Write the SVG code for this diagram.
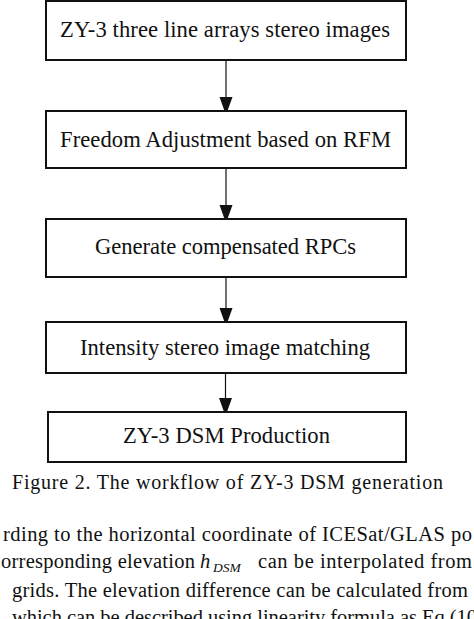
<svg xmlns="http://www.w3.org/2000/svg" width="474" height="619" viewBox="0 0 474 619">
<style>
.box{fill:#fff;stroke:#111;stroke-width:2}
.lbl{font-size:22.6px;fill:#111;text-anchor:middle}
.edge{stroke:#111;stroke-width:1.2;fill:none}
.txt{font-size:20.5px;fill:#111}
.sub{font-size:13.5px;fill:#111;font-style:italic}
.cap{font-size:20px;fill:#111}
</style>
<defs>
<marker id="ah" viewBox="0 0 13 18" refX="13" refY="6.5" markerWidth="13" markerHeight="18" markerUnits="userSpaceOnUse" orient="auto">
<path d="M0,0 L18,6.5 L0,13 Z" fill="#111"/>
</marker>
</defs>
<rect width="474" height="619" fill="#fff"/>
<g id="connectors">
<line class="edge" x1="226" y1="60" x2="226" y2="110" marker-end="url(#ah)"/>
<line class="edge" x1="226" y1="168" x2="226" y2="218" marker-end="url(#ah)"/>
<line class="edge" x1="226" y1="277" x2="226" y2="321" marker-end="url(#ah)"/>
<line class="edge" x1="225.5" y1="373" x2="225.5" y2="411" marker-end="url(#ah)"/>
</g>
<g font-family="'Times New Roman', 'Liberation Serif', 'DejaVu Serif', serif">
<g id="node1">
<rect class="box" x="46" y="1" width="360" height="59"/>
<text class="lbl" x="225" y="37" textLength="330">ZY-3 three line arrays stereo images</text>
</g>
<g id="node2">
<rect class="box" x="46" y="111" width="360" height="57"/>
<text class="lbl" x="225.5" y="146.7" textLength="331">Freedom Adjustment based on RFM</text>
</g>
<g id="node3">
<rect class="box" x="46" y="219" width="360" height="58"/>
<text class="lbl" x="225.5" y="254.3" textLength="261">Generate compensated RPCs</text>
</g>
<g id="node4">
<rect class="box" x="46" y="322" width="360" height="51"/>
<text class="lbl" x="225" y="355" textLength="290">Intensity stereo image matching</text>
</g>
<g id="node5">
<rect class="box" x="48" y="412" width="358" height="50"/>
<text class="lbl" x="226.5" y="443.3" textLength="207">ZY-3 DSM Production</text>
</g>
<text class="cap" x="12" y="489" textLength="431">Figure 2. The workflow of  ZY-3 DSM generation</text>
<text class="txt" x="3" y="541" textLength="469">rding to the horizontal coordinate of ICESat/GLAS po</text>
<text class="txt" x="1" y="568" textLength="194">orresponding elevation</text>
<text class="txt" x="200" y="568" font-style="italic">h</text>
<text class="sub" x="213" y="572">DSM</text>
<text class="txt" x="258" y="568" textLength="214">can be interpolated from</text>
<text class="txt" x="12" y="597" textLength="456">grids. The elevation difference can be calculated from</text>
<text class="txt" x="12" y="624" textLength="465">which can be described using linearity formula as Eq.(10</text>
</g>
</svg>
